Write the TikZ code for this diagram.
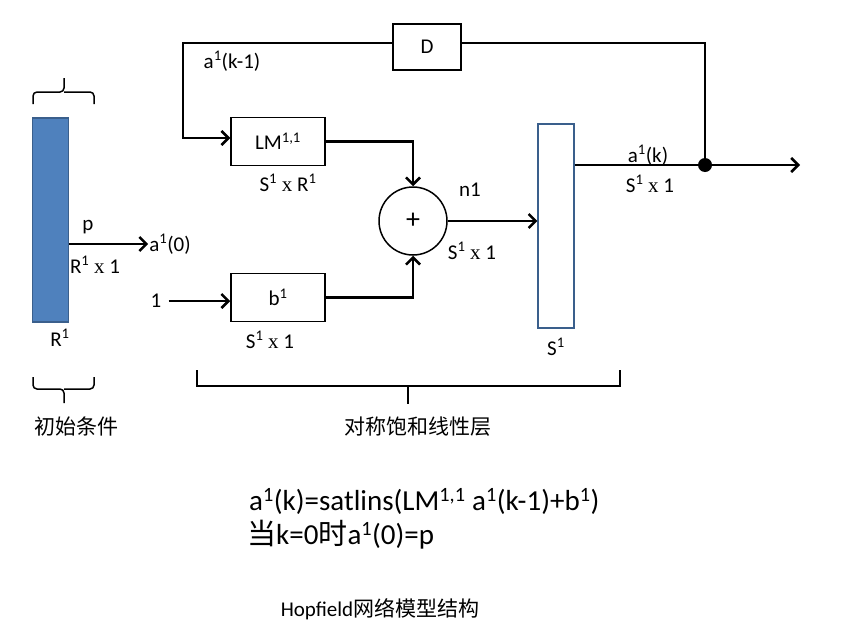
\documentclass[tikz,border=0pt]{standalone}
\usepackage{fontspec}
\usepackage{xcolor}
\usepackage{tikz}
\usetikzlibrary{arrows.meta, positioning, calc}
\setmainfont{Carlito}
\newfontfamily\cjk{Noto Sans CJK SC}
\newfontfamily\serifx{Liberation Serif}
\newcommand{\timesx}{{\serifx x}}
\newcommand{\supone}{\textsuperscript{1}}
\definecolor{barblue}{HTML}{4F81BD}
\definecolor{bardark}{HTML}{3A5F8C}

\begin{document}
\begin{tikzpicture}[
  x=1pt, y=-1pt,
  font=\fontsize{21}{25}\selectfont,
  block/.style={draw, line width=1.5pt, minimum width=94pt, minimum height=48pt, inner sep=0pt},
  bar/.style={draw=bardark, line width=1.2pt, minimum width=36pt, minimum height=204pt, inner sep=0pt},
  sumnode/.style={circle, draw, line width=1.5pt, minimum size=68pt, inner sep=0pt, font=\fontsize{28}{30}\selectfont},
  lbl/.style={inner sep=1pt},
  cjklbl/.style={font=\cjk\fontsize{21}{25}\selectfont},
  eqline/.style={anchor=west, inner sep=0pt, font=\fontsize{29}{33}\selectfont},
  arrow/.style={-{Straight Barb[length=7pt, width=14pt, line width=2.5pt]}, line width=2.5pt},
  wire/.style={line width=2.5pt},
  brk/.style={line width=1.5pt}
]
\useasboundingbox (0,0) rectangle (850,637);

% blocks
\node[bar, fill=barblue] (pbar) at (50.5,220) {};
\node[bar] (sbar) at (556,226) {};
\node[block] (lm) at (278,141.5) {LM\textsuperscript{1,1}};
\node[block] (bias) at (278,297.5) {b\supone};
\node[block, minimum width=68pt, minimum height=46pt] (delay) at (427,47) {D};
\node[sumnode] (sum) at (413,221) {+};
\node[circle, fill, minimum size=14pt, inner sep=0pt] (split) at (705,165) {};

% input side
\node[lbl] (a0) at (170,244) {a\supone(0)};
\node[lbl] (one) at (156,301) {1};
\coordinate (fbturn) at (183,43);
\coordinate (outend) at (800,165);

% labels
\node[lbl] at (88,227) {p};
\node[lbl] at (95,265) {R\supone{} \timesx{} 1};
\node[lbl] at (60,338) {R\supone};
\node[lbl] at (232,61) {a\supone(k-1)};
\node[lbl] at (288,183) {S\supone{} \timesx{} R\supone};
\node[lbl] at (270,340) {S\supone{} \timesx{} 1};
\node[lbl] at (470,190) {n1};
\node[lbl] at (472,251) {S\supone{} \timesx{} 1};
\node[lbl] at (556,347) {S\supone};
\node[lbl] at (648,155) {a\supone(k)};
\node[lbl] at (650,184) {S\supone{} \timesx{} 1};

% connectors
\draw[arrow] (pbar.east |- a0) -- (a0.west);
\draw[arrow] ([xshift=6pt]one.east) -- (one.east -| bias.west);
\draw[arrow] (lm.east) -| (sum.north);
\draw[arrow] (bias.east) -| (sum.south);
\draw[arrow] (sum.east) -- (sum.east -| sbar.west);
\draw[arrow] (sbar.east |- split) -- (outend);
\draw[wire] (split.center) |- (fbturn -| delay.east);
\draw[arrow] (fbturn -| delay.west) -- (fbturn) |- ($(lm.west)+(0,-3.5)$);

% braces
\draw[brk, rounded corners=4pt] (33,104) -- (33,92) -- (64,92) -- (64,78);
\draw[brk, rounded corners=4pt] (64,92) -- (94,92) -- (94,104);
\draw[brk, rounded corners=4pt] (33,377) -- (33,389) -- (64,389) -- (64,403);
\draw[brk, rounded corners=4pt] (64,389) -- (94,389) -- (94,377);
\draw[brk] (197,370) -- (197,386) -- (620,386) -- (620,370);
\draw[brk] (408,386) -- (408,404);

\node[cjklbl] (initlbl) at (76,427) {初始条件};
\node[cjklbl] (layerlbl) at (418,427) {对称饱和线性层};

% formula and caption
\node[eqline] (eq1) at (249,501)
  {a\supone(k)=satlins(LM\textsuperscript{1,1} a\supone(k-1)+b\supone)};
\node[eqline] (eq2) at (247,535)
  {{\cjk 当}k=0{\cjk 时}a\supone(0)=p};
\node[inner sep=0pt, font=\fontsize{21}{25}\selectfont] (caption) at (380,609)
  {Hopfield{\cjk 网络模型结构}};
\end{tikzpicture}
\end{document}
